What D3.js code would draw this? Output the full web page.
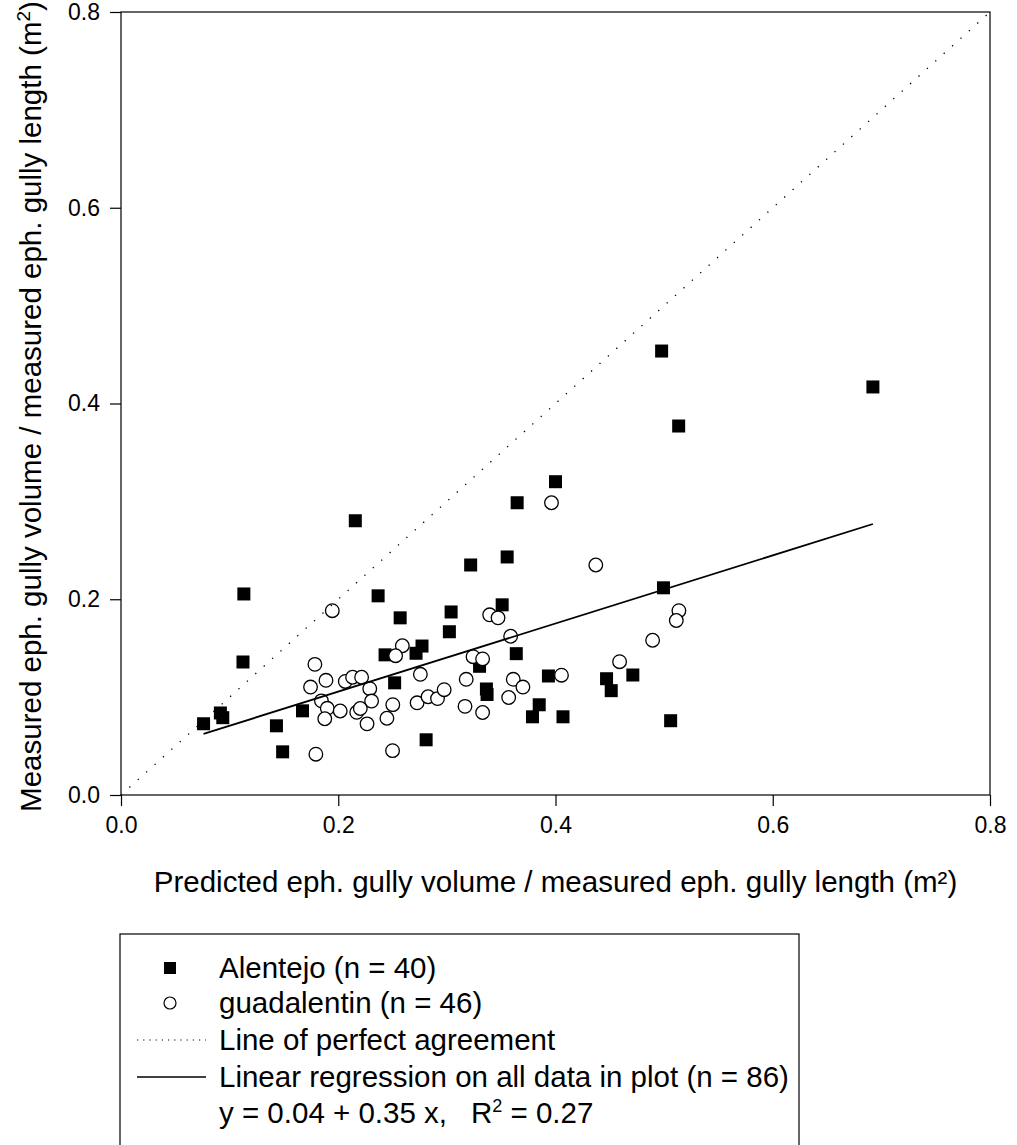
<!DOCTYPE html>
<html>
<head>
<meta charset="utf-8">
<script src="https://cdn.jsdelivr.net/npm/d3@7"></script>
<style>
  html, body { margin: 0; padding: 0; background: #fff; overflow: hidden; }
  svg { display: block; font-family: "Liberation Sans", Arial, sans-serif; }
</style>
</head>
<body>
<svg width="1017" height="1145"></svg>
<script>
// Alentejo (filled squares)
const alentejoX = [0.076, 0.0915, 0.0937, 0.1131, 0.1123, 0.1431, 0.1488, 0.1671, 0.2157, 0.2367,
  0.257, 0.2431, 0.2519, 0.2771, 0.2716, 0.2809, 0.3039, 0.3023, 0.3219, 0.3301,
  0.3364, 0.337, 0.3509, 0.3555, 0.3639, 0.3647, 0.4, 0.3788, 0.385, 0.3935,
  0.4069, 0.447, 0.4513, 0.4712, 0.4994, 0.506, 0.4977, 0.6922, 0.5134]
const alentejoY = [0.0728, 0.0838, 0.079, 0.2054, 0.1359, 0.0707, 0.0441, 0.086, 0.2802, 0.2035,
  0.181, 0.1432, 0.1146, 0.1522, 0.1448, 0.0564, 0.187, 0.1668, 0.235, 0.1315,
  0.1083, 0.1027, 0.1943, 0.2432, 0.1444, 0.2986, 0.3201, 0.0799, 0.0922, 0.1216,
  0.0799, 0.1188, 0.1066, 0.1226, 0.2117, 0.0759, 0.4536, 0.4169, 0.377]

// guadalentin (open circles)
const guadaX = [0.1945, 0.259, 0.2528, 0.1785, 0.1887, 0.1745, 0.2065, 0.2132, 0.2215, 0.229,
  0.2307, 0.2756, 0.1845, 0.1899, 0.1876, 0.2018, 0.217, 0.2203, 0.2265, 0.2502,
  0.2448, 0.2726, 0.2827, 0.2914, 0.2975, 0.1794, 0.25, 0.3394, 0.3471, 0.3587,
  0.3241, 0.3329, 0.3178, 0.3611, 0.37, 0.3569, 0.3167, 0.3329, 0.4055, 0.5136,
  0.5112, 0.4894, 0.459, 0.3963, 0.4371]
const guadaY = [0.1883, 0.1525, 0.1423, 0.1335, 0.1172, 0.1103, 0.116, 0.1203, 0.1203, 0.1086,
  0.096, 0.1233, 0.0962, 0.0886, 0.0779, 0.0858, 0.0845, 0.0884, 0.0727, 0.0923,
  0.0784, 0.0942, 0.1004, 0.0985, 0.1076, 0.0417, 0.0453, 0.1841, 0.181, 0.1622,
  0.1413, 0.139, 0.1182, 0.1182, 0.1103, 0.0996, 0.0906, 0.0843, 0.1224, 0.1883,
  0.1783, 0.1581, 0.1362, 0.2986, 0.235]

const ticks = [0, 0.2, 0.4, 0.6, 0.8]
const regIntercept = 0.036
const regSlope = 0.348

const xTitle = 'Predicted eph. gully volume / measured eph. gully length (m²)'
const yTitle = 'Measured eph. gully volume / measured eph. gully length (m'
const legendLabels = ['Alentejo (n = 40)', 'guadalentin (n = 46)', 'Line of perfect agreement',
  'Linear regression on all data in plot (n = 86)']

const svg = d3.select('svg')
const margin = {top: 12, right: 27, bottom: 350, left: 121}
const innerWidth = 1017 - margin.left - margin.right
const innerHeight = 1145 - margin.top - margin.bottom

const xScale = d3.scaleLinear().domain([0, 0.8]).range([0, innerWidth])
const yScale = d3.scaleLinear().domain([0, 0.8]).range([innerHeight, 0])

const g = svg.append('g')
  .attr('transform', `translate(${margin.left}, ${margin.top})`)

// frame
g.append('rect')
  .attr('width', innerWidth)
  .attr('height', innerHeight)
  .attr('fill', 'none')
  .attr('stroke', '#000')
  .attr('stroke-width', 1.2)

const xAxis = d3.axisBottom(xScale).tickValues(ticks).tickFormat(d3.format('.1f'))
  .tickSize(11).tickPadding(11)
const yAxis = d3.axisLeft(yScale).tickValues(ticks).tickFormat(d3.format('.1f'))
  .tickSize(11).tickPadding(10)

const xg = g.append('g').attr('transform', `translate(0, ${innerHeight})`).call(xAxis)
const yg = g.append('g').call(yAxis)
;[xg, yg].forEach(a => {
  a.select('.domain').remove()
  a.selectAll('line').attr('stroke', '#000').attr('stroke-width', 1.2)
  a.selectAll('text').attr('font-size', '23px').attr('fill', '#000')
    .attr('font-family', '"Liberation Sans", Arial, sans-serif')
})

// squares
const sq = 13
const alentejo = alentejoX.map((x, i) => ({x, y: alentejoY[i]}))
g.selectAll('.sq')
  .data(alentejo)
  .enter()
  .append('rect')
  .attr('class', 'sq')
  .attr('x', d => xScale(d.x) - sq / 2)
  .attr('y', d => yScale(d.y) - sq / 2)
  .attr('width', sq)
  .attr('height', sq)
  .attr('fill', '#000')

// circles
const guada = guadaX.map((x, i) => ({x, y: guadaY[i]}))
g.selectAll('.circ')
  .data(guada)
  .enter()
  .append('circle')
  .attr('class', 'circ')
  .attr('cx', d => xScale(d.x))
  .attr('cy', d => yScale(d.y))
  .attr('r', 6.8)
  .attr('fill', '#fff')
  .attr('stroke', '#000')
  .attr('stroke-width', 1.3)

// line of perfect agreement
g.append('line')
  .attr('x1', xScale(0)).attr('y1', yScale(0))
  .attr('x2', xScale(0.8)).attr('y2', yScale(0.8))
  .attr('stroke', '#000')
  .attr('stroke-width', 1.3)
  .style('stroke-dasharray', '1.3,10')

// regression line over data range
const allX = alentejoX.concat(guadaX)
const xMin = d3.min(allX), xMax = d3.max(allX)
g.append('line')
  .attr('x1', xScale(xMin)).attr('y1', yScale(regIntercept + regSlope * xMin))
  .attr('x2', xScale(xMax)).attr('y2', yScale(regIntercept + regSlope * xMax))
  .attr('stroke', '#000')
  .attr('stroke-width', 1.8)

// axis titles
svg.append('text')
  .attr('x', margin.left + innerWidth / 2)
  .attr('y', 892)
  .attr('text-anchor', 'middle')
  .attr('font-size', '29.5px')
  .text(xTitle)

const yt = svg.append('text')
  .attr('transform', `translate(41, ${margin.top + innerHeight / 2 + 3}) rotate(-90)`)
  .attr('text-anchor', 'middle')
  .attr('font-size', '29.5px')
yt.append('tspan').text(yTitle)
yt.append('tspan').attr('dy', -11).attr('font-size', '19px').text('2')
yt.append('tspan').attr('dy', 11).text(')')

// legend
const lg = svg.append('g')
lg.append('rect')
  .attr('x', 120).attr('y', 934)
  .attr('width', 679).attr('height', 240)
  .attr('fill', 'none').attr('stroke', '#000').attr('stroke-width', 1.2)

const rowY = [968, 1003, 1040, 1077, 1113]
lg.append('rect').attr('x', 170 - 6).attr('y', rowY[0] - 6).attr('width', 12).attr('height', 12)
lg.append('circle').attr('cx', 170).attr('cy', rowY[1]).attr('r', 6)
  .attr('fill', '#fff').attr('stroke', '#000').attr('stroke-width', 1.2)
lg.append('line').attr('x1', 137).attr('x2', 206).attr('y1', rowY[2]).attr('y2', rowY[2])
  .attr('stroke', '#000').attr('stroke-width', 1.2).style('stroke-dasharray', '1.2,5')
lg.append('line').attr('x1', 137).attr('x2', 206).attr('y1', rowY[3]).attr('y2', rowY[3])
  .attr('stroke', '#000').attr('stroke-width', 1.5)

lg.selectAll('.ltext')
  .data(legendLabels)
  .enter()
  .append('text')
  .attr('class', 'ltext')
  .attr('x', 219)
  .attr('y', (d, i) => rowY[i] + 10)
  .attr('font-size', '29.5px')
  .text(d => d)

const eq = lg.append('text').attr('x', 219).attr('y', rowY[4] + 10).attr('font-size', '29.5px')
eq.append('tspan').text('y = 0.04 + 0.35 x,')
eq.append('tspan').attr('dx', 24).text('R')
eq.append('tspan').attr('dy', -11).attr('font-size', '18px').text('2')
eq.append('tspan').attr('dy', 11).text(' = 0.27')
</script>
</body>
</html>
